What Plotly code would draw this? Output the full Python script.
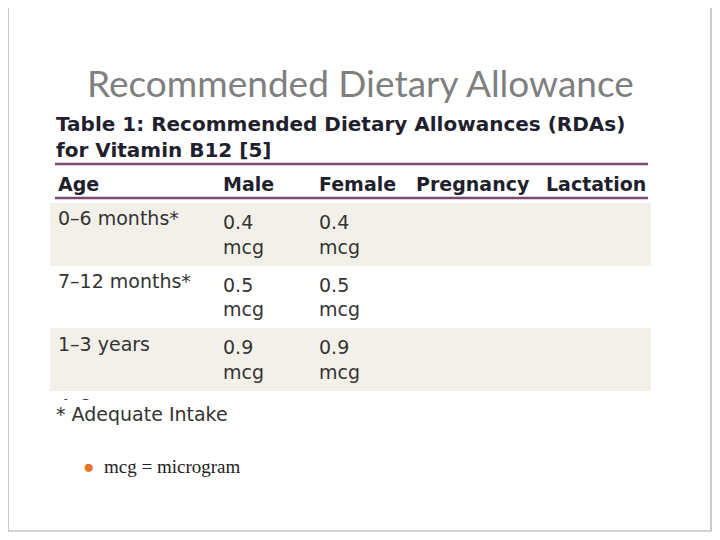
import plotly.graph_objects as go

# ── Table data ────────────────────────────────────────────────────────────────
headers = ["Age", "Male", "Female", "Pregnancy", "Lactation"]
ages = ["0–6 months*", "7–12 months*", "1–3 years", "4–8 years", "9–13 years", "14+ years"]
male = ["0.4 mcg", "0.5 mcg", "0.9 mcg", "1.2 mcg", "1.8 mcg", "2.4 mcg"]
female = ["0.4 mcg", "0.5 mcg", "0.9 mcg", "1.2 mcg", "1.8 mcg", "2.4 mcg"]
pregnancy = ["", "", "", "", "", "2.6 mcg"]
lactation = ["", "", "", "", "", "2.8 mcg"]

W, H = 720, 540
FONT = "DejaVu Sans"
TEXT = "#1f1f2e"
PURPLE = "#7b4a72"
BAND = ["#f3f0ea" if i % 2 == 0 else "white" for i in range(len(ages))]


def fx(x):
    return x / W


def fy(y):
    return 1 - y / H


x0, x1 = 42, 643          # table left/right in px
top, bottom = 157, 392    # table top/bottom in px

fig = go.Figure(go.Table(
    domain=dict(x=[fx(x0), fx(x1)], y=[fy(bottom), fy(top)]),
    columnwidth=[165, 96, 97, 130, 113],
    header=dict(
        values=[f"<b>{h}</b>" for h in headers],
        align="left", height=34, line=dict(width=0), fill_color="white",
        font=dict(family=FONT, size=19, color=TEXT),
    ),
    cells=dict(
        values=[ages, male, female, pregnancy, lactation],
        align=["left", "left", "left", "right", "right"], height=33,
        line=dict(width=0), fill_color=[BAND] * 5,
        font=dict(family=FONT, size=19, color="#333333"),
    ),
))

# purple rules above and below the header
for y in (156, 190):
    fig.add_shape(type="line", xref="paper", yref="paper",
                  x0=fx(47), x1=fx(640), y0=fy(y), y1=fy(y),
                  line=dict(color=PURPLE, width=2.5))

# slide frame
fig.add_shape(type="rect", xref="paper", yref="paper",
              x0=fx(0), x1=fx(703), y0=fy(523), y1=fy(-1),
              line=dict(color="#a8a8a8", width=1.2), layer="below")

fig.add_annotation(text="Recommended Dietary Allowance", x=fx(352), y=fy(50),
                   xref="paper", yref="paper", showarrow=False,
                   font=dict(family="Lato", size=37, color="#7f7f7f"))
fig.add_annotation(text="<b>Table 1: Recommended Dietary Allowances (RDAs)<br>for Vitamin B12 [5]</b>",
                   x=fx(46), y=fy(102), xref="paper", yref="paper", showarrow=False,
                   xanchor="left", align="left",
                   font=dict(family=FONT, size=20, color=TEXT))
fig.add_annotation(text="* Adequate Intake", x=fx(46), y=fy(419),
                   xref="paper", yref="paper", showarrow=False, xanchor="left",
                   font=dict(family=FONT, size=19, color="#333333"))
fig.add_annotation(text="<span style='color:#e8732c'>●</span>  mcg = microgram",
                   x=fx(73), y=fy(471), xref="paper", yref="paper",
                   showarrow=False, xanchor="left",
                   font=dict(family="Liberation Serif", size=19, color="#222222"))

fig.update_layout(width=W, height=H, margin=dict(l=0, r=0, t=0, b=0),
                  paper_bgcolor="white", plot_bgcolor="white")
fig.write_html("out.html")
